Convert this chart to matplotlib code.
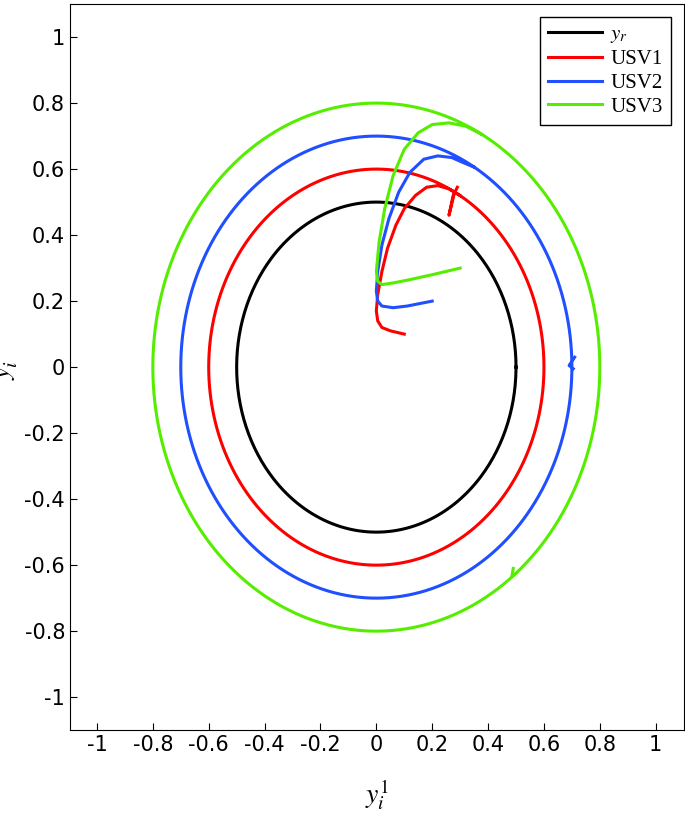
import numpy as np
import matplotlib
matplotlib.use("Agg")
import matplotlib.pyplot as plt

plt.rcParams['mathtext.fontset'] = 'stix'

radii = [0.5, 0.6, 0.7, 0.8]
colors = ['black', '#ff0000', '#1f4fff', '#55ee00']
labels = [r'$y_r$', 'USV1', 'USV2', 'USV3']
join_angle_deg = [None, 60, 60, 62]

# transient parts
red_x = [0.10, 0.05, 0.02, 0.005, 0.00, 0.005, 0.02, 0.04, 0.07, 0.10, 0.14, 0.18, 0.22, 0.26, 0.30]
red_y = [0.10, 0.11, 0.12, 0.14, 0.17, 0.22, 0.29, 0.36, 0.43, 0.48, 0.52, 0.545, 0.55, 0.54, 0.52]
blue_x = [0.20, 0.11, 0.06, 0.02, 0.005, 0.00, 0.005, 0.02, 0.045, 0.08, 0.12, 0.17, 0.22, 0.27, 0.31, 0.35]
blue_y = [0.20, 0.185, 0.18, 0.185, 0.20, 0.23, 0.29, 0.37, 0.45, 0.53, 0.59, 0.63, 0.64, 0.635, 0.62, 0.606]
green_x = [0.30, 0.20, 0.12, 0.06, 0.02, 0.005, 0.00, 0.01, 0.03, 0.06, 0.10, 0.15, 0.20, 0.26, 0.32, 0.376]
green_y = [0.30, 0.28, 0.265, 0.255, 0.25, 0.26, 0.29, 0.38, 0.48, 0.58, 0.66, 0.71, 0.735, 0.74, 0.73, 0.706]
# small spurs
red_spur_x = [0.28, 0.26, 0.275, 0.29]
red_spur_y = [0.53, 0.46, 0.52, 0.545]
blue_spur_x = [0.71, 0.69, 0.705]
blue_spur_y = [0.03, 0.005, -0.005]
green_spur_x = [0.49, 0.485, 0.50]
green_spur_y = [-0.61, -0.635, -0.625]

fig = plt.figure(figsize=(6.85, 8.14), dpi=100)
ax = fig.add_axes([0.102, 0.103, 0.896, 0.892])

trans = [None, (red_x, red_y), (blue_x, blue_y), (green_x, green_y)]
spurs = [None, (red_spur_x, red_spur_y), (blue_spur_x, blue_spur_y), (green_spur_x, green_spur_y)]
for r, c, lab, ja, tr, sp in zip(radii, colors, labels, join_angle_deg, trans, spurs):
    if ja is None:
        t = np.linspace(0, 2*np.pi, 400)
        ax.plot(r*np.cos(t), r*np.sin(t), color=c, lw=2.2, label=lab)
    else:
        t = np.deg2rad(np.linspace(ja, ja - 360, 400))
        x = np.concatenate([tr[0], r*np.cos(t)])
        y = np.concatenate([tr[1], r*np.sin(t)])
        ax.plot(x, y, color=c, lw=2.2, label=lab, solid_joinstyle='round')
        ax.plot(sp[0], sp[1], color=c, lw=2.2, solid_joinstyle='round')

ax.set_xlim(-1.097, 1.10)
ax.set_ylim(-1.1, 1.1)
ticks = np.round(np.arange(-1, 1.01, 0.2), 1)
ax.set_xticks(ticks)
ax.set_yticks(ticks)
fmt = lambda v: '0' if v == 0 else ('%g' % v)
ax.set_xticklabels([fmt(v) for v in ticks], fontsize=15)
ax.set_yticklabels([fmt(v) for v in ticks], fontsize=15)
ax.tick_params(direction='in', length=5)
ax.set_xlabel(r'$y_i^1$', fontsize=20)
ax.xaxis.set_label_coords(0.5, -0.065)
ax.set_ylabel(r'$y_i^2$', fontsize=20)
ax.yaxis.set_label_coords(-0.082, 0.5)
leg = ax.legend(loc='upper right', prop={'family': 'Liberation Serif', 'size': 15},
                fancybox=False, edgecolor='black', framealpha=1,
                handlelength=2.6, borderaxespad=0.6, labelspacing=0.2, handletextpad=0.4)
leg.get_frame().set_linewidth(1.0)
fig.savefig('out.png', dpi=100)
